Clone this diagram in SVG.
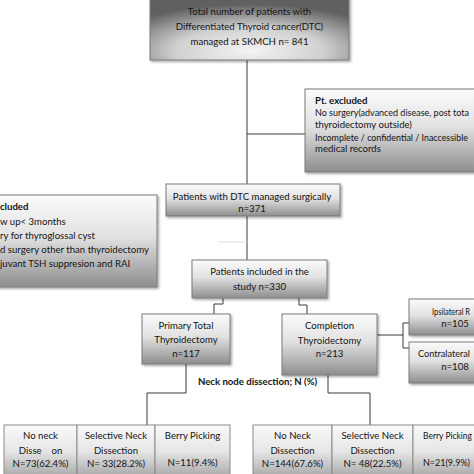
<svg xmlns="http://www.w3.org/2000/svg" width="474" height="474" viewBox="0 0 474 474">
<style>
text{font-family:Lato,"Liberation Sans",sans-serif;font-size:9.6px;fill:#141414}
.c{text-anchor:middle}
.b{font-weight:bold}
.box{fill:url(#g);stroke:#7a7a7a;stroke-width:1;filter:url(#sh)}
.cell{fill:url(#g2);stroke:#8a8a8a;stroke-width:1}
.ln{fill:none;stroke:#3a3a3a;stroke-width:1}
</style>
<defs>
<linearGradient id="g" x1="0" y1="0" x2="0" y2="1">
<stop offset="0" stop-color="#fbfbfb"/>
<stop offset="0.45" stop-color="#e2e2e2"/>
<stop offset="1" stop-color="#8e8e8e"/>
</linearGradient>
<linearGradient id="g2" x1="0" y1="0" x2="0" y2="1">
<stop offset="0" stop-color="#fafafa"/>
<stop offset="0.5" stop-color="#e6e6e6"/>
<stop offset="1" stop-color="#a8a8a8"/>
</linearGradient>
<radialGradient id="gr" cx="0.5" cy="0.85" r="0.75">
<stop offset="0" stop-color="#f4f4f4"/>
<stop offset="0.5" stop-color="#d0d0d0"/>
<stop offset="1" stop-color="#606060"/>
</radialGradient>
<filter id="sh" x="-10%" y="-10%" width="130%" height="140%">
<feDropShadow dx="1.5" dy="1.5" stdDeviation="1" flood-color="#000" flood-opacity="0.35"/>
</filter>
</defs>

<g id="connectors">
<path class="ln" d="M247,60 V184 M247,134 H305 M247,216 V260"/>
<path d="M218,242 H247" fill="none" stroke="#dddddd" stroke-width="1"/>
<path class="ln" d="M223,298 V304 H214 V314 M299,298 V305 H307 V314"/>
<path class="ln" d="M377,335 H403 M409,323 H403 V348 H409"/>
<path class="ln" d="M186,364 V393 H147 V425 M328,375 V393 H370 V425"/>
</g>

<g id="n-total">
<rect x="150" y="-2" width="199" height="62" fill="url(#gr)" stroke="#7a7a7a" filter="url(#sh)"/>
<text class="c" x="249.5" y="14.5">Total number of patients with</text>
<text class="c" x="249.5" y="29.5">Differentiated Thyroid cancer(DTC)</text>
<text class="c" x="249.5" y="44.5">managed at SKMCH n= 841</text>
</g>

<g id="n-ptexcluded">
<rect class="box" x="305" y="89" width="175" height="83"/>
<text class="b" x="315" y="103.5">Pt.  excluded</text>
<text x="315" y="115.5" textLength="154" lengthAdjust="spacingAndGlyphs">No surgery(advanced disease, post tota</text>
<text x="315" y="127.5">thyroidectomy outside)</text>
<text x="315" y="140.5" textLength="153" lengthAdjust="spacingAndGlyphs">Incomplete / confidential / Inaccessible</text>
<text x="315" y="151.5">medical records</text>
</g>

<g id="n-excluded">
<rect class="box" x="-5" y="195" width="162" height="92"/>
<text class="b" x="0" y="210">cluded</text>
<text x="0" y="225">w up&lt; 3months</text>
<text x="0" y="239">ry for thyroglossal cyst</text>
<text x="0" y="253">d surgery other than thyroidectomy</text>
<text x="0" y="267">juvant TSH suppresion and RAI</text>
</g>

<g id="n-surgical">
<rect class="box" x="166" y="184" width="174" height="32"/>
<text class="c" x="252" y="199.5">Patients with DTC managed surgically</text>
<text class="c" x="252" y="211.5">n=371</text>
</g>

<g id="n-included">
<rect class="box" x="192" y="260" width="135" height="38"/>
<text class="c" x="259.5" y="274.5">Patients included in the</text>
<text class="c" x="259.5" y="289.5">study n=330</text>
</g>

<g id="n-primary">
<rect class="box" x="142" y="314" width="88" height="50"/>
<text class="c" x="186" y="328.5">Primary Total</text>
<text class="c" x="186" y="342.5">Thyroidectomy</text>
<text class="c" x="186" y="356.5">n=117</text>
</g>

<g id="n-completion">
<rect class="box" x="282" y="314" width="95" height="61"/>
<text class="c" x="329.5" y="328.5">Completion</text>
<text class="c" x="329.5" y="343.5">Thyroidectomy</text>
<text class="c" x="329.5" y="356.5">n=213</text>
</g>

<g id="n-ipsi">
<rect class="box" x="409" y="299" width="75" height="36"/>
<text x="432" y="314.5" textLength="38" lengthAdjust="spacingAndGlyphs">Ipsilateral R</text>
<text class="c" x="455" y="326.5">n=105</text>
</g>

<g id="n-contra">
<rect class="box" x="409" y="342" width="75" height="41"/>
<text x="418" y="356.5" textLength="52" lengthAdjust="spacingAndGlyphs">Contralateral</text>
<text class="c" x="455" y="369.5">n=108</text>
</g>

<text class="b" x="198" y="384.5">Neck node dissection; N (%)</text>

<g id="n-left-row">
<rect class="cell" x="4" y="425" width="73" height="52"/>
<rect class="cell" x="77" y="425" width="78" height="52"/>
<rect class="cell" x="155" y="425" width="75" height="52"/>
<text class="c" x="40.5" y="438.5">No neck</text>
<text class="c" x="40.5" y="453.5" xml:space="preserve">Disse    on</text>
<text class="c" x="40.5" y="466.5">N=73(62.4%)</text>
<text class="c" x="116" y="438.5">Selective Neck</text>
<text class="c" x="116" y="453.5">Dissection</text>
<text class="c" x="116" y="467">N= 33(28.2%)</text>
<text class="c" x="192.5" y="438.5">Berry Picking</text>
<text class="c" x="192.5" y="465.5">N=11(9.4%)</text>
</g>

<g id="n-right-row">
<rect class="cell" x="253" y="425" width="79" height="52"/>
<rect class="cell" x="332" y="425" width="81" height="52"/>
<rect class="cell" x="413" y="425" width="75" height="52"/>
<text class="c" x="292.5" y="438.5">No Neck</text>
<text class="c" x="292.5" y="453.5">Dissection</text>
<text class="c" x="292.5" y="466.5">N=144(67.6%)</text>
<text class="c" x="372.5" y="438.5">Selective Neck</text>
<text class="c" x="372.5" y="453.5">Dissection</text>
<text class="c" x="372.5" y="467">N= 48(22.5%)</text>
<text x="423" y="438.5" textLength="49" lengthAdjust="spacingAndGlyphs">Berry Picking</text>
<text x="423" y="465.5" textLength="47" lengthAdjust="spacingAndGlyphs">N=21(9.9%)</text>
</g>
</svg>
